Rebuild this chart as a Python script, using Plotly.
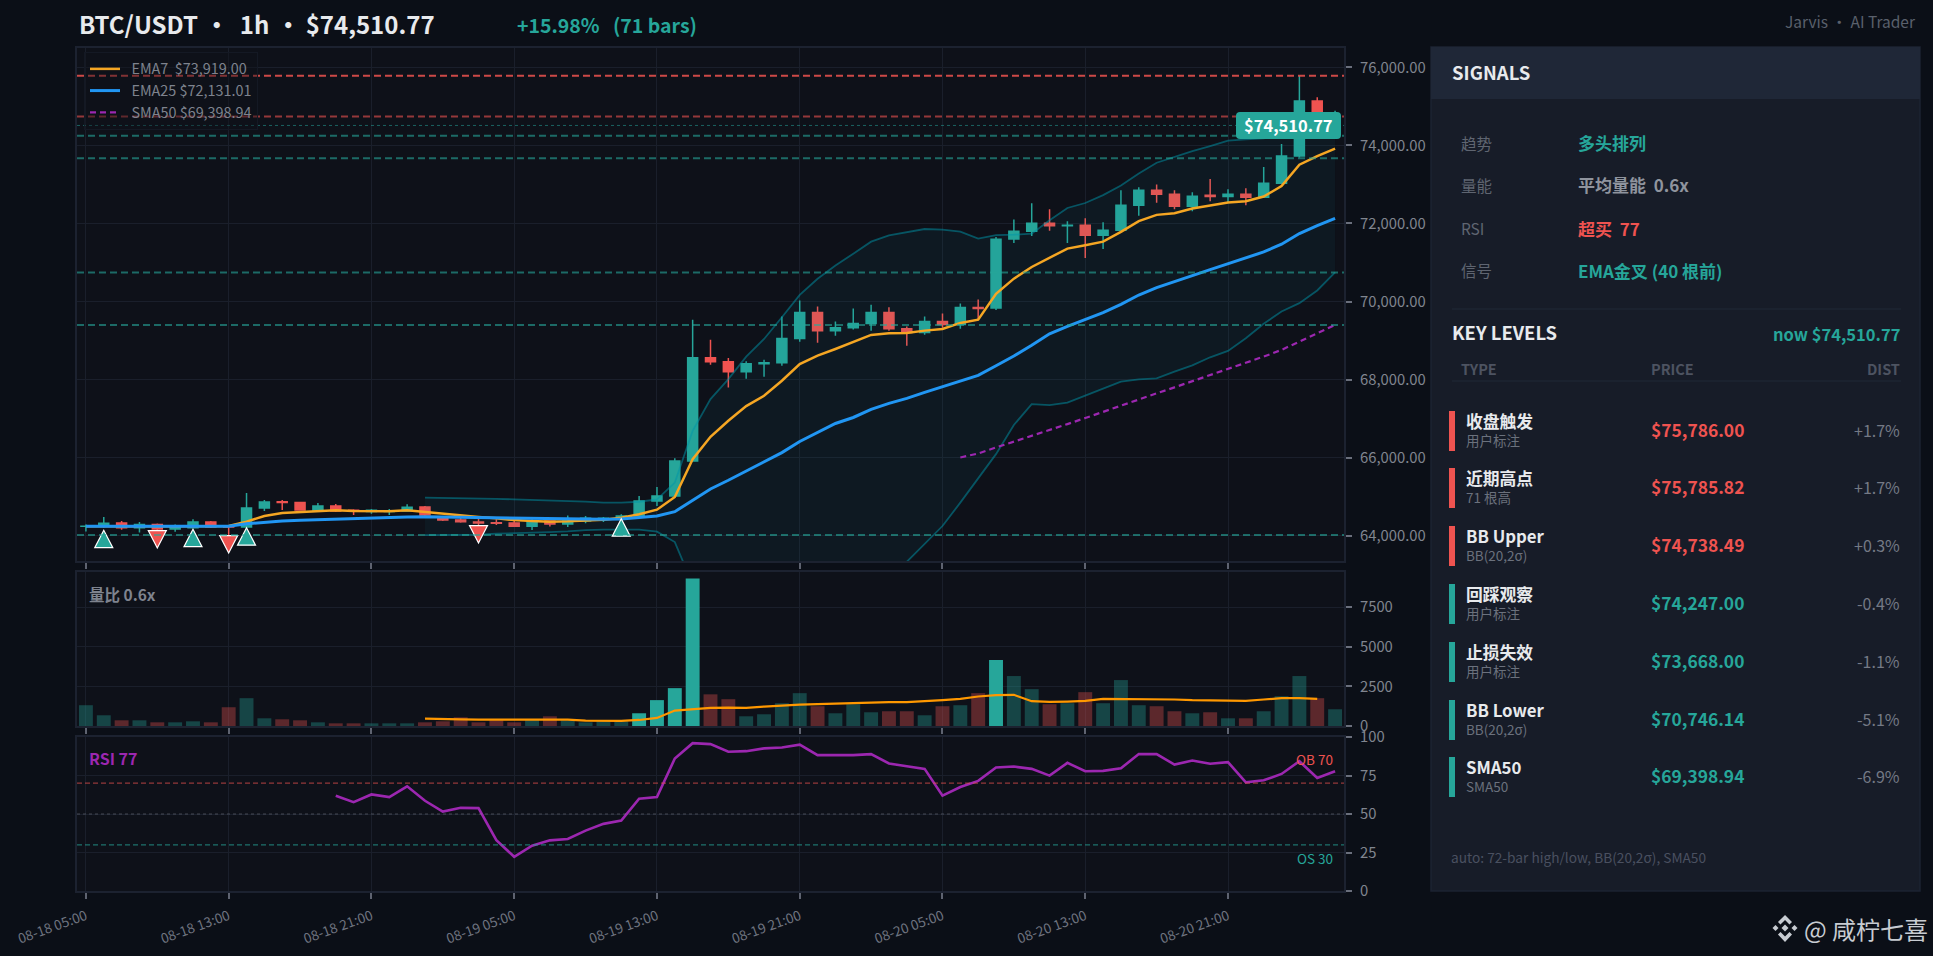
import pandas as pd
import plotly.graph_objects as go

W, H = 1933, 956

TEAL = "#26a69a"
RED = "#ef5350"
FONT = "Noto Sans CJK SC"

bar_times = pd.date_range("2025-08-18 05:00", periods=71, freq="h").strftime("%m-%d %H:%M").tolist()
tick_times = bar_times[::8]

opens = [64240, 64240, 64325, 64205, 64290, 64170, 64205, 64350, 64240, 64220, 64710, 64870, 64850, 64660, 64760, 64650, 64620, 64620,
         64635, 64735, 64460, 64400, 64350, 64330, 64325, 64240, 64375, 64300, 64375, 64420, 64420, 64505, 64890, 65020, 65915, 68560,
         68458, 68200, 68407, 68432, 69050, 69716, 69254, 69331, 69434, 69716, 69305, 69203, 69485, 69408, 69845, 69833, 71604, 71800,
         72006, 71938, 71955, 71698, 71827, 72468, 72853, 72750, 72443, 72720, 72690, 72750, 72674, 73033, 73726, 75138, 74440]
closes = [64245, 64320, 64205, 64290, 64170, 64240, 64350, 64220, 64220, 64710, 64865, 64850, 64660, 64760, 64630, 64625, 64650, 64640,
          64730, 64530, 64400, 64360, 64325, 64320, 64240, 64375, 64300, 64375, 64445, 64445, 64505, 64890, 65020, 65915, 68560, 68458,
          68200, 68407, 68430, 69050, 69716, 69254, 69331, 69434, 69716, 69305, 69203, 69485, 69408, 69845, 69820, 71595, 71800, 72006,
          71938, 71955, 71698, 71827, 72468, 72853, 72750, 72443, 72700, 72690, 72750, 72674, 73033, 73726, 75138, 74440, 74510.77]
highs = [64290, 64480, 64375, 64350, 64315, 64290, 64420, 64375, 64240, 65095, 64915, 64915, 64860, 64840, 64810, 64680, 64685, 64685,
         64805, 64760, 64505, 64460, 64445, 64420, 64375, 64420, 64395, 64520, 64505, 64480, 64550, 65020, 65250, 65985, 69530, 69023,
         68552, 68467, 68510, 69613, 70024, 69870, 69485, 69820, 69920, 69853, 69357, 69613, 69690, 69947, 70050, 71650, 72100, 72520,
         72366, 72058, 72135, 72032, 72853, 72930, 73000, 72853, 72802, 73136, 72879, 72905, 73444, 74034, 75785.82, 75232, 74890]
lows = [64110, 64210, 64150, 64080, 64135, 64100, 64190, 64200, 64000, 64200, 64630, 64660, 64650, 64630, 64610, 64530, 64565, 64530,
        64615, 64500, 64375, 64335, 64275, 64275, 64220, 64145, 64235, 64220, 64320, 64350, 64400, 64460, 64760, 65000, 65915, 68380,
        67800, 68020, 68073, 68355, 68970, 68946, 69125, 69280, 69254, 69254, 68869, 69151, 69331, 69305, 69536, 69780, 71501, 71681,
        71810, 71501, 71116, 71347, 71790, 72195, 72528, 72366, 72314, 72571, 72528, 72468, 72650, 73020, 73690, 74300, 74400]

ema7 = [64240, 64245, 64250, 64250, 64245, 64245, 64250, 64250, 64250, 64360, 64505, 64580, 64600, 64633, 64650, 64633, 64625, 64625,
        64650, 64607, 64548, 64505, 64480, 64445, 64400, 64375, 64360, 64368, 64393, 64410, 64462, 64548, 64667, 64993, 65960, 66533,
        66944, 67320, 67585, 67970, 68398, 68612, 68783, 68955, 69143, 69186, 69194, 69254, 69297, 69451, 69536, 70195, 70586, 70885,
        71125, 71356, 71441, 71535, 71784, 72058, 72220, 72263, 72383, 72468, 72537, 72571, 72691, 72956, 73504, 73726, 73919.00]
ema25 = [64240, 64240, 64240, 64240, 64240, 64240, 64240, 64240, 64240, 64308, 64350, 64375, 64393, 64410, 64428, 64436, 64453, 64462,
         64480, 64488, 64480, 64471, 64462, 64453, 64445, 64436, 64428, 64428, 64428, 64419, 64428, 64462, 64505, 64616, 64907, 65198,
         65420, 65660, 65883, 66130, 66413, 66644, 66875, 67029, 67235, 67389, 67517, 67671, 67816, 67970, 68107, 68355, 68604, 68880,
         69174, 69362, 69533, 69713, 69927, 70166, 70355, 70500, 70663, 70817, 70971, 71108, 71270, 71467, 71741, 71946, 72131.01]
# bollinger and sma only start once they have enough bars
bb_start = 19
bb_upper = [64975, 64970, 64960, 64950, 64945, 64930, 64920, 64905, 64890, 64875, 64850, 64850, 64870, 64933, 65360, 66687, 67500, 68013,
            68587, 69040, 69596, 70170, 70584, 70925, 71225, 71533, 71695, 71780, 71858, 71840, 71790, 71610, 71703, 71713, 71738, 72080,
            72396, 72524, 72725, 72973, 73281, 73555, 73709, 73855, 73983, 74120, 74154, 74180, 74265, 74500, 74620, 74738.49]
bb_lower = [64017, 64017, 64017, 64025, 64050, 64060, 64077, 64094, 64110, 64145, 64154, 64154, 64154, 64103, 63837, 62750, 61900, 61400,
            60900, 60600, 60300, 60200, 60700, 61300, 61900, 62400, 62900, 63332, 63778, 64248, 64847, 65480, 66090, 66836, 67373, 67347,
            67408, 67588, 67776, 67947, 68007, 68032, 68204, 68366, 68571, 68735, 69059, 69430, 69744, 69958, 70283, 70746.14]
sma_start = 49
sma50 = [66004, 66107, 66261, 66407, 66553, 66707, 66860, 67015, 67177, 67331, 67485, 67647, 67801, 67955, 68119, 68273, 68427, 68589,
         68761, 68974, 69172, 69398.94]

volumes = [1313, 678, 360, 360, 233, 233, 297, 233, 1186, 1758, 487, 424, 360, 233, 169, 169, 169, 169, 169, 233, 297, 550, 233, 360,
           233, 424, 614, 360, 233, 297, 297, 805, 1635, 2393, 9322, 2001, 1695, 614, 741, 1440, 2075, 1250, 805, 1376, 868, 932, 932,
           678, 1250, 1313, 2075, 4172, 3156, 2330, 1377, 1440, 2139, 1440, 2902, 1313, 1250, 932, 805, 868, 487, 487, 932, 1885, 3156,
           1758, 1059]
bright_bars = [31, 32, 33, 34, 51]
vol_ma = [466, 424, 424, 403, 403, 424, 445, 445, 403, 339, 318, 318, 381, 508, 974, 1059, 1144, 1165, 1144, 1228, 1313, 1355, 1377,
          1419, 1461, 1483, 1504, 1504, 1546, 1631, 1716, 1864, 1949, 1970, 1567, 1525, 1546, 1589, 1716, 1716, 1694, 1673, 1673, 1631,
          1610, 1589, 1589, 1673, 1758, 1758, 1716]
rsi_start = 14
rsi = [61.9, 57.7, 62.7, 61, 68, 58.6, 51.6, 54, 53.8, 33, 22.2, 29.4, 32.9, 33.8, 39.2, 43.6, 45.8, 59.9, 61, 86, 96, 95.4, 90.4, 90.8,
       92.6, 93.2, 95, 88.2, 88.2, 88.2, 88.9, 82.8, 81, 79.3, 61.9, 67.5, 71.5, 80.2, 80.8, 79.3, 74.9, 83.2, 77.8, 78, 79.7, 88.9, 88.9,
       82.1, 84.7, 82.6, 83.7, 70.6, 71.9, 76, 84.3, 73.4, 77.8]

buy_bars = [1, 6, 9, 30]
buy_prices = [63917, 63943, 63981, 64212]
sell_bars = [4, 8, 22]
sell_prices = [63909, 63780, 64037]

level_names = ["收盘触发", "近期高点", "BB Upper", "回踩观察", "止损失效", "BB Lower", "SMA50"]
level_subs = ["用户标注", "71 根高", "BB(20,2σ)", "用户标注", "用户标注", "BB(20,2σ)", "SMA50"]
level_prices = [75786.00, 75785.82, 74738.49, 74247.00, 73668.00, 70746.14, 69398.94]
level_dists = ["+1.7%", "+1.7%", "+0.3%", "-0.4%", "-1.1%", "-5.1%", "-6.9%"]
level_sides = ["r", "r", "r", "t", "t", "t", "t"]
row_tops = [411, 468, 526, 584, 642, 700, 757]

price_lines = [75786.00, 74738.49, 74247.00, 73668.00, 70746.14, 69398.94, 64017]
price_line_colors = ["rgba(239,83,80,0.85)", "rgba(239,83,80,0.6)", "rgba(38,166,154,0.6)", "rgba(38,166,154,0.6)",
                     "rgba(38,166,154,0.6)", "rgba(38,166,154,0.6)", "rgba(38,166,154,0.6)"]
last_price = 74510.77


def px(x):
    return x / W


def py(y):
    return 1 - y / H


fig = go.Figure()

# main panel
fig.add_trace(go.Candlestick(
    x=bar_times, open=opens, high=highs, low=lows, close=closes, showlegend=False,
    increasing=dict(line=dict(color=TEAL, width=1.5), fillcolor=TEAL),
    decreasing=dict(line=dict(color=RED, width=1.5), fillcolor=RED),
    whiskerwidth=0,
))
fig.add_trace(go.Scatter(x=bar_times[bb_start:], y=bb_lower, mode="lines", showlegend=False,
                         line=dict(color="rgba(0,150,170,0.5)", width=1.8)))
fig.add_trace(go.Scatter(x=bar_times[bb_start:], y=bb_upper, mode="lines", showlegend=False, fill="tonexty",
                         fillcolor="rgba(20,140,150,0.07)", line=dict(color="rgba(0,150,170,0.5)", width=1.8)))
fig.add_trace(go.Scatter(x=bar_times, y=ema7, mode="lines", name="\u00a0\u00a0EMA7\u00a0\u00a0$73,919.00", legendgroup="a",
                         line=dict(color="#f5a623", width=2.5)))
fig.add_trace(go.Scatter(x=bar_times, y=ema25, mode="lines", name="\u00a0\u00a0EMA25 $72,131.01", legendgroup="b",
                         line=dict(color="#2196f3", width=3)))
fig.add_trace(go.Scatter(x=bar_times[sma_start:], y=sma50, mode="lines", name="\u00a0\u00a0SMA50 $69,398.94", legendgroup="c",
                         line=dict(color="#9c27b0", width=2.2, dash="6px,4px")))

# signal triangles, pinned to the bar and price, with a fixed pixel size (path y points up here)
for i, price in zip(buy_bars, buy_prices):
    fig.add_shape(type="path", xref="x", yref="y", xsizemode="pixel", ysizemode="pixel", xanchor=bar_times[i], yanchor=price,
                  path="M -9,-8.7 L 9,-8.7 L 0,8.7 Z", fillcolor=TEAL, line=dict(color="#ffffff", width=1.2))
for i, price in zip(sell_bars, sell_prices):
    fig.add_shape(type="path", xref="x", yref="y", xsizemode="pixel", ysizemode="pixel", xanchor=bar_times[i], yanchor=price,
                  path="M -9,8.7 L 9,8.7 L 0,-8.7 Z", fillcolor=RED, line=dict(color="#ffffff", width=1.2))

# volume panel
vol_colors = []
for i in range(len(volumes)):
    alpha = 1 if i in bright_bars else 0.35
    if closes[i] >= opens[i]:
        vol_colors.append(f"rgba(38,166,154,{alpha})")
    else:
        vol_colors.append(f"rgba(239,83,80,{alpha})")
fig.add_trace(go.Bar(x=bar_times, y=volumes, marker=dict(color=vol_colors, line_width=0), xaxis="x2", yaxis="y2", showlegend=False))
fig.add_trace(go.Scatter(x=bar_times[bb_start:], y=vol_ma, mode="lines", xaxis="x2", yaxis="y2", showlegend=False,
                         line=dict(color="#ff9800", width=2.2)))

# rsi panel
fig.add_trace(go.Scatter(x=bar_times[rsi_start:], y=rsi, mode="lines", xaxis="x3", yaxis="y3", showlegend=False,
                         line=dict(color="#9c27b0", width=2.6)))

for level, color in zip(price_lines, price_line_colors):
    fig.add_shape(type="line", xref="x domain", yref="y", x0=0, x1=1, y0=level, y1=level,
                  line=dict(color=color, width=2, dash="7px,4px"))
fig.add_shape(type="line", xref="x domain", yref="y", x0=0, x1=1, y0=last_price, y1=last_price,
              line=dict(color="rgba(38,166,154,0.55)", width=1, dash="dot"))
fig.add_shape(type="line", xref="x3 domain", yref="y3", x0=0, x1=1, y0=70, y1=70,
              line=dict(color="rgba(239,83,80,0.6)", width=1.3, dash="5px,3px"))
fig.add_shape(type="line", xref="x3 domain", yref="y3", x0=0, x1=1, y0=50, y1=50,
              line=dict(color="rgba(150,155,165,0.4)", width=1, dash="dot"))
fig.add_shape(type="line", xref="x3 domain", yref="y3", x0=0, x1=1, y0=30, y1=30,
              line=dict(color="rgba(38,166,154,0.65)", width=1.3, dash="5px,3px"))


def add_rect(x0, y0, x1, y1, fill, border=None):
    fig.add_shape(type="rect", xref="paper", yref="paper", x0=px(x0), x1=px(x1), y0=py(y0), y1=py(y1), fillcolor=fill,
                  line=dict(color=border or fill, width=1.5 if border else 0), layer="below")


def add_hline(x0, x1, y, color):
    fig.add_shape(type="line", xref="paper", yref="paper", x0=px(x0), x1=px(x1), y0=py(y), y1=py(y),
                  line=dict(color=color, width=1))


def add_path(points, color):
    path = "M " + " L ".join(f"{px(a):.5f},{py(b):.5f}" for a, b in points) + " Z"
    fig.add_shape(type="path", xref="paper", yref="paper", path=path, fillcolor=color, line_width=0)


def add_text(x, y, text, size, color, bold=False, anchor="left"):
    # annotations carry about 2px of padding
    if anchor == "left":
        x -= 2
    elif anchor == "right":
        x += 2
    fig.add_annotation(xref="paper", yref="paper", x=px(x), y=py(y), text=text, showarrow=False, xanchor=anchor, yanchor="middle",
                       font=dict(family=FONT, size=size, color=color, weight=700 if bold else 400), borderpad=0)


# header
add_text(80, 24, "BTC/USDT\u00a0\u200a·\u00a0\u00a01h\u00a0\u200a·\u00a0$74,510.77", 24, "#e8eaed", True)
add_text(518, 25, "+15.98%\u00a0\u00a0\u00a0(71 bars)", 19.5, TEAL, True)
add_text(1915, 21, "Jarvis · AI Trader", 15.5, "#5a606c", anchor="right")

# last price tag, rounded corners
r = 4
x0, x1, y0, y1 = 1236, 1341, 112, 139
tag = (f"M {px(x0 + r):.5f},{py(y0):.5f} L {px(x1 - r):.5f},{py(y0):.5f} Q {px(x1):.5f},{py(y0):.5f} {px(x1):.5f},{py(y0 + r):.5f} "
       f"L {px(x1):.5f},{py(y1 - r):.5f} Q {px(x1):.5f},{py(y1):.5f} {px(x1 - r):.5f},{py(y1):.5f} "
       f"L {px(x0 + r):.5f},{py(y1):.5f} Q {px(x0):.5f},{py(y1):.5f} {px(x0):.5f},{py(y1 - r):.5f} "
       f"L {px(x0):.5f},{py(y0 + r):.5f} Q {px(x0):.5f},{py(y0):.5f} {px(x0 + r):.5f},{py(y0):.5f} Z")
fig.add_shape(type="path", xref="paper", yref="paper", path=tag, fillcolor=TEAL, line_width=0)
add_text(1288.5, 125, "$74,510.77", 16.5, "#ffffff", True, "center")

# panel labels
add_text(90, 594, "量比 0.6x", 15.5, "#7e838e", True)
add_text(90, 758, "RSI 77", 16, "#9c27b0", True)
add_text(1332, 759, "OB 70", 13.5, RED, anchor="right")
add_text(1332, 858, "OS 30", 13.5, TEAL, anchor="right")

# side panel
add_rect(1431, 47, 1920, 891, "#171c28", "#1c2332")
add_rect(1431, 47, 1920, 99, "#1f2737")
add_text(1453, 72, "SIGNALS", 18.5, "#e8eaed", True)

signal_labels = ["趋势", "量能", "RSI", "信号"]
signal_values = ["多头排列", "平均量能\u00a0\u00a00.6x", "超买\u00a0\u00a077", "EMA金叉 (40 根前)"]
signal_colors = [TEAL, "#8f949e", RED, TEAL]
signal_rows = [143, 185, 228, 270]
for label, value, color, y in zip(signal_labels, signal_values, signal_colors, signal_rows):
    add_text(1462, y, label, 15.5, "#5f6571")
    add_text(1579, y, value, 17, color, True)

add_hline(1452, 1901, 309, "#212836")
add_text(1453, 332, "KEY LEVELS", 18.4, "#e8eaed", True)
add_text(1899, 334, "now $74,510.77", 16.5, TEAL, True, "right")
add_text(1462, 368, "TYPE", 14.5, "#4d5361", True)
add_text(1652, 368, "PRICE", 14.5, "#4d5361", True)
add_text(1899, 368, "DIST", 14.5, "#4d5361", True, "right")
add_hline(1452, 1901, 381, "#212836")

for name, sub, price, dist, side, top in zip(level_names, level_subs, level_prices, level_dists, level_sides, row_tops):
    color = RED if side == "r" else TEAL
    add_rect(1449, top, 1455, top + 40, color)
    add_text(1467, top + 10, name, 16.8, "#e8eaed", True)
    add_text(1467, top + 29, sub, 13.5, "#6b717d")
    add_text(1652, top + 18.5, f"${price:,.2f}", 17.4, color, True)
    add_text(1899, top + 18.5, dist, 16, "#747985", anchor="right")

add_text(1452, 857, "auto: 72-bar high/low, BB(20,2σ), SMA50", 13.7, "#4a5060")

# watermark
mark = "#c8ccd2"
add_path([(1785, 924.5), (1788.5, 928), (1785, 931.5), (1781.5, 928)], mark)
add_path([(1775.5, 925), (1778.5, 928), (1775.5, 931), (1772.5, 928)], mark)
add_path([(1794.5, 925), (1797.5, 928), (1794.5, 931), (1791.5, 928)], mark)
add_path([(1785, 915), (1792, 922), (1789.5, 924.5), (1785, 920), (1780.5, 924.5), (1778, 922)], mark)
add_path([(1785, 942), (1778, 934.5), (1780.5, 932), (1785, 936.5), (1789.5, 932), (1792, 934.5)], mark)
add_text(1805, 928, "@ 咸柠七喜", 24, mark)

x_common = dict(
    type="category", categoryorder="array", categoryarray=bar_times, range=[-0.5, 70.5], domain=[px(77), px(1344)],
    tickmode="array", tickvals=tick_times, ticks="outside", ticklen=6, tickwidth=2, tickcolor="#5e6370",
    showgrid=True, gridcolor="#1a1f2b", gridwidth=1, zeroline=False,
    showline=True, linecolor="#1c2230", linewidth=2, mirror=True,
)
y_common = dict(
    side="right", ticks="outside", ticklen=6, tickwidth=2, tickcolor="#6a6f7c", showgrid=True, gridcolor="#1a1f2b", gridwidth=1,
    zeroline=False, showline=True, linecolor="#1c2230", linewidth=2, mirror=True, ticklabelstandoff=5,
    tickfont=dict(family=FONT, size=14.8, color="#80858f"),
)

fig.update_layout(
    width=W, height=H, autosize=False, margin=dict(l=0, r=0, t=0, b=0, autoexpand=False),
    paper_bgcolor="#0b0f17", plot_bgcolor="#0e1119",
    font=dict(family=FONT), hovermode=False, bargap=0.22, boxgap=0.2,
    legend=dict(x=px(84), y=py(52), xanchor="left", yanchor="top", bgcolor="rgba(14,17,25,0.4)", bordercolor="#141924", borderwidth=1,
                font=dict(family=FONT, size=14.4, color="#7e838e"), tracegroupgap=0, itemclick=False),
    xaxis=dict(**x_common, anchor="y", showticklabels=False, rangeslider=dict(visible=False)),
    xaxis2=dict(**x_common, anchor="y2", showticklabels=False),
    xaxis3=dict(**x_common, anchor="y3", tickangle=-20, ticklabelstandoff=4, tickfont=dict(family=FONT, size=13.7, color="#6f7480")),
    yaxis=dict(**y_common, anchor="x", domain=[py(561), py(48)], range=[63352, 76495], tickmode="array",
               tickvals=[64000, 66000, 68000, 70000, 72000, 74000, 76000], tickformat=",.2f"),
    yaxis2=dict(**y_common, anchor="x2", domain=[py(726), py(572)], range=[0, 9730], tickmode="array",
                tickvals=[0, 2500, 5000, 7500], tickformat="d"),
    yaxis3=dict(**y_common, anchor="x3", domain=[py(891), py(737)], range=[0, 100], tickmode="array",
                tickvals=[0, 25, 50, 75, 100]),
)

fig.write_html("out.html", config={"displayModeBar": False},
               post_script="document.body.style.margin='0';document.body.style.overflow='hidden';")
